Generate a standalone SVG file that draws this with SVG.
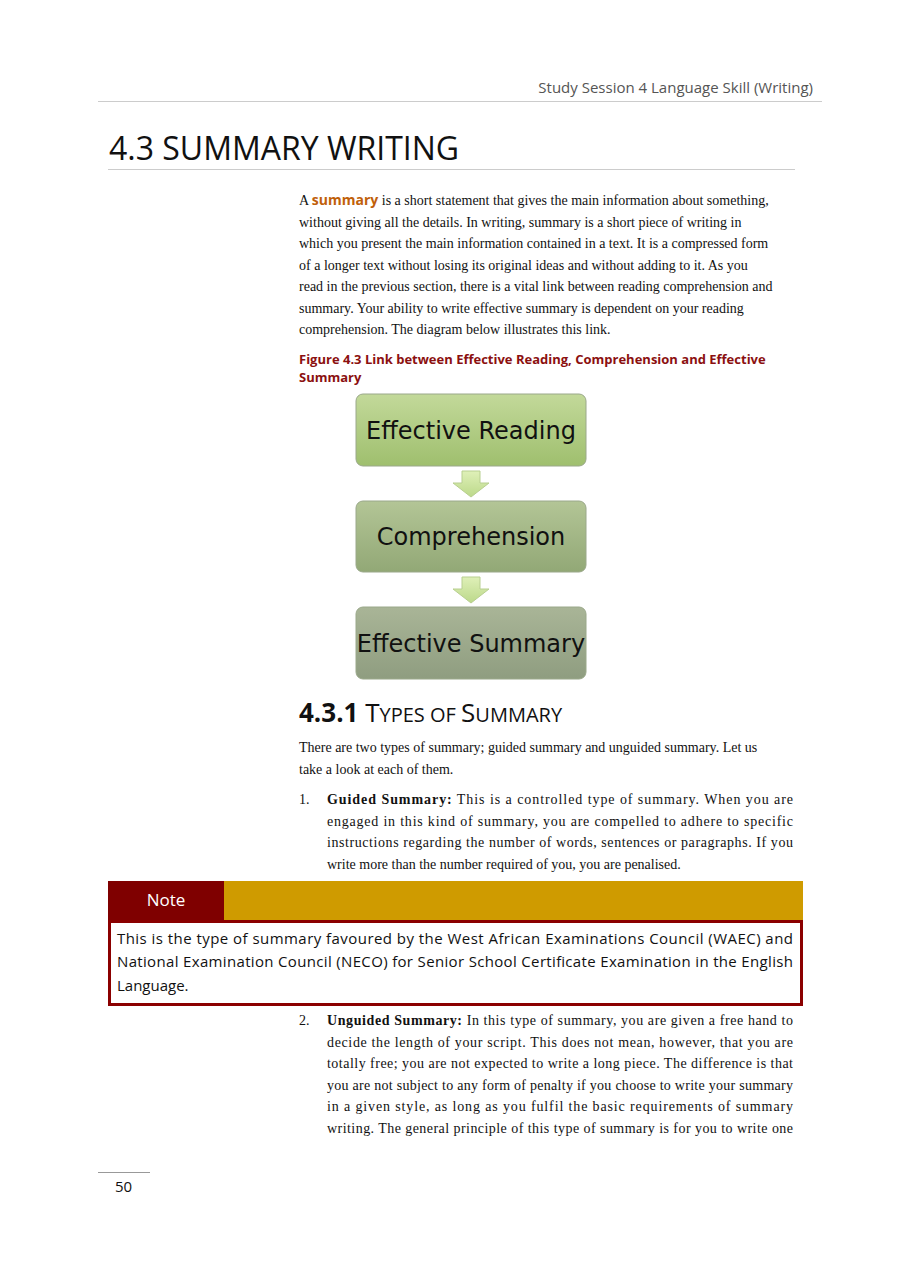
<svg xmlns="http://www.w3.org/2000/svg" width="900" height="1273" viewBox="0 0 900 1273">
<style>
.b{font-family:"Liberation Serif",serif;font-size:14px;fill:#111}
.s{font-family:"Open Sans","Noto Sans",sans-serif}
.nt{font-family:"Open Sans","Noto Sans",sans-serif;font-size:15px;fill:#111}
.bx{font-family:"DejaVu Sans",sans-serif;font-size:24px;fill:#111;text-anchor:middle}
.node{stroke:#9aa88a;stroke-width:1}
</style>
<defs>
<linearGradient id="g1" x1="0" y1="0" x2="0" y2="1"><stop offset="0" stop-color="#c3d99a"/><stop offset="1" stop-color="#9fbf6e"/></linearGradient>
<linearGradient id="g2" x1="0" y1="0" x2="0" y2="1"><stop offset="0" stop-color="#b3c596"/><stop offset="1" stop-color="#92a876"/></linearGradient>
<linearGradient id="g3" x1="0" y1="0" x2="0" y2="1"><stop offset="0" stop-color="#a9b597"/><stop offset="1" stop-color="#8f9d80"/></linearGradient>
<linearGradient id="ga" x1="0" y1="0" x2="0" y2="1"><stop offset="0" stop-color="#dff0b8"/><stop offset="1" stop-color="#bcd98a"/></linearGradient>
</defs>
<rect width="900" height="1273" fill="#fff"/>
<text x="813" y="93" text-anchor="end" class="s" font-size="15" fill="#555">Study Session 4  Language Skill (Writing)</text>
<line x1="98" y1="101.5" x2="822" y2="101.5" stroke="#ccc"/>
<text x="109" y="160" class="s" font-size="32" fill="#111">4.3 SUMMARY WRITING</text>
<line x1="108" y1="169.5" x2="795" y2="169.5" stroke="#ccc"/>
<text class="b">
<tspan x="299" y="205">A <tspan class="s" font-weight="bold" fill="#c0600a" font-size="14">summary</tspan> is a short statement that gives the main information about something,</tspan>
<tspan x="299" y="227">without giving all the details. In writing, summary is a short piece of writing in</tspan>
<tspan x="299" y="248">which you present the main information contained in a text.  It is a compressed form</tspan>
<tspan x="299" y="270">of a longer text without losing its original ideas and without adding to it. As you</tspan>
<tspan x="299" y="291">read in the previous section, there is a vital link between reading comprehension and</tspan>
<tspan x="299" y="313">summary. Your ability to write effective summary is dependent on your reading</tspan>
<tspan x="299" y="334">comprehension. The diagram below illustrates this link.</tspan>
</text>
<text class="s" font-size="13" font-weight="bold" fill="#8b1010"><tspan x="299" y="364">Figure 4.3 Link between Effective Reading, Comprehension and Effective</tspan><tspan x="299" y="382">Summary</tspan></text>
<g id="n1"><rect class="node" x="356" y="394" width="230" height="72" rx="7" fill="url(#g1)"/><text class="bx" x="471" y="439">Effective Reading</text></g>
<g id="n2"><rect class="node" x="356" y="501" width="230" height="71" rx="7" fill="url(#g2)"/><text class="bx" x="471" y="545">Comprehension</text></g>
<g id="n3"><rect class="node" x="356" y="607" width="230" height="72" rx="7" fill="url(#g3)"/><text class="bx" x="471" y="652">Effective Summary</text></g>
<g id="connectors" fill="url(#ga)" stroke="#b8cf90">
<path d="M462 471h18v12h9l-18 14-18-14h9z"/>
<path d="M462 577h18v12h9l-18 14-18-14h9z"/>
</g>
<text y="722" class="s" fill="#111"><tspan x="299" font-size="26" font-weight="bold">4.3.1 </tspan><tspan font-size="26">T</tspan><tspan font-size="20">YPES OF </tspan><tspan font-size="26">S</tspan><tspan font-size="20">UMMARY</tspan></text>
<text class="b"><tspan x="299" y="752">There are two types of summary; guided summary and unguided summary. Let us</tspan><tspan x="299" y="774">take a look at each of them.</tspan></text>
<text class="b"><tspan x="299" y="804">1.</tspan>
<tspan x="327" y="804" textLength="466" lengthAdjust="spacing"><tspan font-weight="bold">Guided Summary:</tspan> This is a controlled type of summary. When you are</tspan>
<tspan x="327" y="826" textLength="466" lengthAdjust="spacing">engaged in this kind of summary, you are compelled to adhere to specific</tspan>
<tspan x="327" y="847" textLength="466" lengthAdjust="spacing">instructions regarding the number of words, sentences or paragraphs. If you</tspan>
<tspan x="327" y="869">write more than the number required of you, you are penalised.</tspan></text>
<g id="note">
<rect x="108" y="881" width="695" height="40" fill="#cf9b00"/>
<rect x="108" y="881" width="116" height="40" fill="#7f0000"/>
<text x="166" y="906" text-anchor="middle" class="s" font-size="17" fill="#fff">Note</text>
<rect x="109.5" y="921.5" width="692" height="83" fill="#fff" stroke="#8b0000" stroke-width="3"/>
<text class="nt"><tspan x="117" y="944" textLength="676" lengthAdjust="spacing">This is the type of summary favoured by the West African Examinations Council (WAEC) and</tspan>
<tspan x="117" y="967" textLength="676" lengthAdjust="spacing">National Examination Council (NECO) for Senior School Certificate Examination in the English</tspan>
<tspan x="117" y="991">Language.</tspan></text>
</g>
<text class="b"><tspan x="299" y="1025">2.</tspan>
<tspan x="327" y="1025" textLength="466" lengthAdjust="spacing"><tspan font-weight="bold">Unguided Summary:</tspan> In this type of summary, you are given a free hand to</tspan>
<tspan x="327" y="1047" textLength="466" lengthAdjust="spacing">decide the length of your script. This does not mean, however, that you are</tspan>
<tspan x="327" y="1068" textLength="466" lengthAdjust="spacing">totally free; you are not expected to write a long piece. The difference is that</tspan>
<tspan x="327" y="1090" textLength="466" lengthAdjust="spacing">you are not subject to any form of penalty if you choose to write your summary</tspan>
<tspan x="327" y="1111" textLength="466" lengthAdjust="spacing">in a given style, as long as you fulfil the basic requirements of summary</tspan>
<tspan x="327" y="1133" textLength="466" lengthAdjust="spacing">writing. The general principle of this type of summary is for you to write one</tspan></text>
<line x1="98" y1="1172.5" x2="150" y2="1172.5" stroke="#999"/>
<text x="115" y="1192" class="s" font-size="15" fill="#111">50</text>
</svg>
